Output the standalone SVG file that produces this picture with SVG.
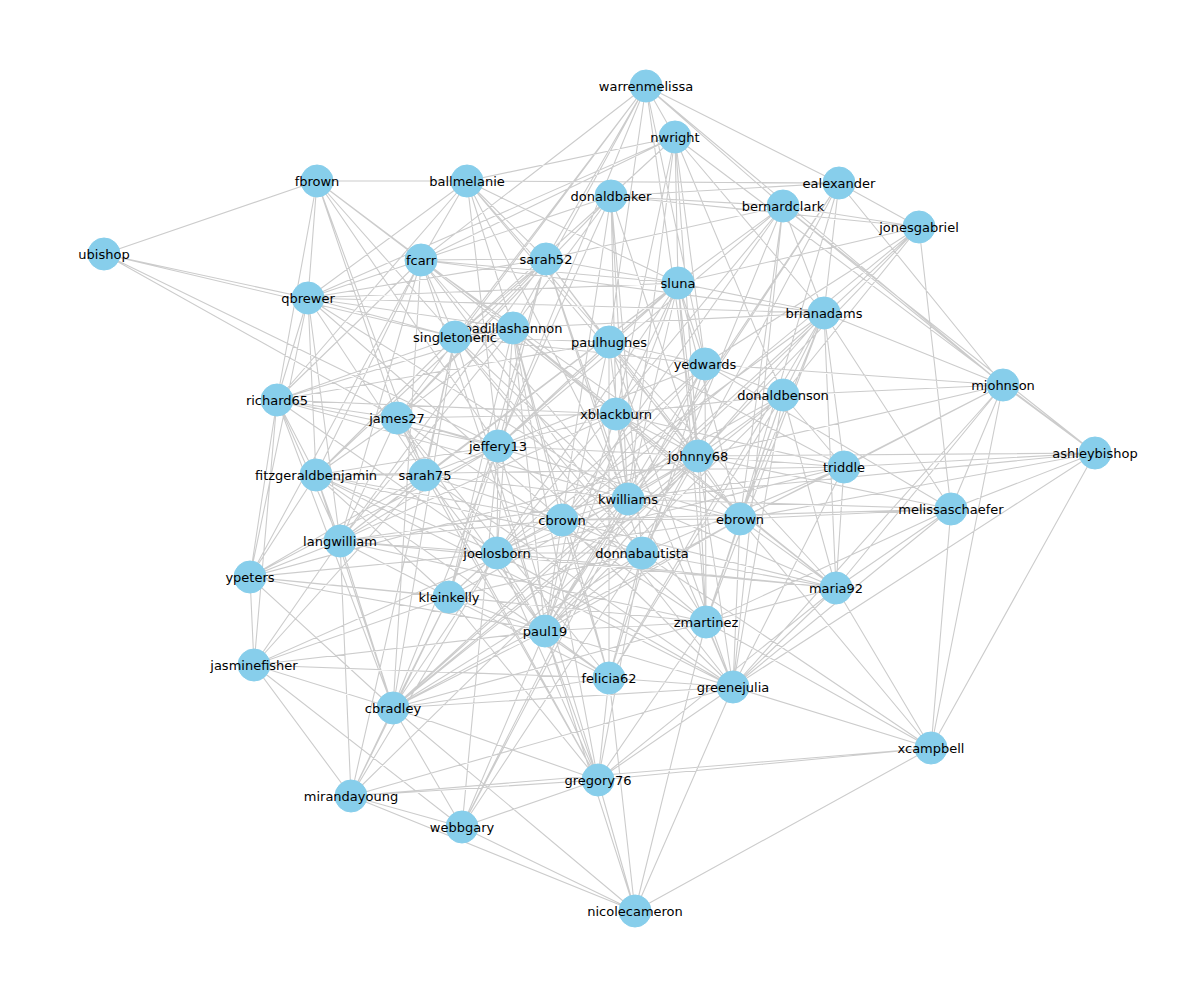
<svg xmlns="http://www.w3.org/2000/svg" width="1200" height="1000" viewBox="0 0 1200 1000">
<style>
.e{stroke:#cccccc;stroke-width:1.1;fill:none}
.n circle{fill:#87CEEB;stroke:#87CEEB}
.n text{font-family:"DejaVu Sans",sans-serif;font-size:13px;fill:#000;text-anchor:middle;dominant-baseline:central}
</style>
<rect width="1200" height="1000" fill="#ffffff"/>
<g id="edges">
<path class="e" d="
M104 254L317 181 M104 254L308 298 M104 254L455 337 M104 254L397 418 M104 254L498 446
M317 181L467 181 M317 181L421 260 M317 181L308 298 M317 181L277 400 M317 181L455 337 M317 181L397 418 M317 181L513 328 M317 181L425 475 M317 181L498 446
M467 181L839 183 M467 181L675 137 M467 181L421 260 M467 181L308 298 M467 181L277 400 M467 181L546 259 M467 181L513 328 M467 181L609 342 M467 181L498 446 M467 181L698 456 M467 181L628 499 M467 181L678 283
M646 86L675 137 M646 86L839 183 M646 86L1003 385 M646 86L783 206 M646 86L421 260 M646 86L455 337 M646 86L513 328 M646 86L546 259 M646 86L397 418 M646 86L498 446 M646 86L705 364 M646 86L609 342 M646 86L698 456
M675 137L421 260 M675 137L308 298 M675 137L678 283 M675 137L705 364 M675 137L698 456 M675 137L1095 453 M675 137L783 395 M675 137L616 414 M675 137L628 499 M675 137L611 196 M675 137L824 313
M839 183L611 196 M839 183L824 313 M839 183L1003 385 M839 183L919 227 M839 183L642 553 M839 183L740 519 M839 183L545 631 M839 183L628 499
M611 196L421 260 M611 196L919 227 M611 196L455 337 M611 196L513 328 M611 196L397 418 M611 196L498 446 M611 196L628 499 M611 196L698 456 M611 196L642 553 M611 196L562 520 M611 196L616 414 M611 196L783 206
M783 206L919 227 M783 206L678 283 M783 206L498 446 M783 206L562 520 M783 206L642 553 M783 206L740 519 M783 206L733 687 M783 206L1003 385 M783 206L824 313 M783 206L546 259 M783 206L1095 453 M783 206L497 553
M919 227L951 509 M919 227L678 283 M919 227L698 456 M919 227L705 364 M919 227L783 395 M919 227L628 499 M919 227L562 520
M421 260L546 259 M421 260L678 283 M421 260L308 298 M421 260L340 541 M421 260L316 475 M421 260L250 577 M421 260L455 337 M421 260L698 456 M421 260L824 313 M421 260L628 499 M421 260L545 631 M421 260L616 414 M421 260L277 400 M421 260L642 553 M421 260L393 708
M546 259L678 283 M546 259L308 298 M546 259L455 337 M546 259L397 418 M546 259L609 342 M546 259L498 446 M546 259L628 499 M546 259L642 553 M546 259L449 597 M546 259L340 541 M546 259L316 475 M546 259L740 519
M678 283L308 298 M678 283L824 313 M678 283L609 342 M678 283L705 364 M678 283L698 456 M678 283L616 414 M678 283L628 499 M678 283L740 519 M678 283L498 446 M678 283L497 553 M678 283L393 708 M678 283L545 631 M678 283L425 475 M678 283L340 541 M678 283L706 622
M308 298L277 400 M308 298L455 337 M308 298L513 328 M308 298L824 313 M308 298L316 475 M308 298L340 541 M308 298L250 577 M308 298L425 475 M308 298L562 520 M308 298L628 499
M824 313L513 328 M824 313L1003 385 M824 313L844 467 M824 313L783 395 M824 313L740 519 M824 313L836 588 M824 313L951 509 M824 313L497 553 M824 313L545 631 M824 313L393 708 M824 313L609 678 M824 313L706 622
M513 328L277 400 M513 328L455 337 M513 328L397 418 M513 328L616 414 M513 328L562 520 M513 328L497 553 M513 328L545 631 M513 328L449 597 M513 328L598 780 M513 328L609 678 M513 328L740 519 M513 328L836 588 M513 328L340 541
M455 337L277 400 M455 337L609 342 M455 337L316 475 M455 337L425 475 M455 337L393 708 M455 337L351 796 M455 337L545 631 M455 337L628 499 M455 337L733 687 M455 337L642 553 M455 337L705 364
M609 342L705 364 M609 342L498 446 M609 342L698 456 M609 342L277 400 M609 342L844 467 M609 342L628 499 M609 342L733 687 M609 342L836 588 M609 342L609 678 M609 342L545 631
M705 364L783 395 M705 364L1003 385 M705 364L498 446 M705 364L562 520 M705 364L449 597 M705 364L545 631 M705 364L609 678 M705 364L951 509 M705 364L706 622 M705 364L462 827
M1003 385L783 395 M1003 385L1095 453 M1003 385L844 467 M1003 385L951 509 M1003 385L836 588 M1003 385L931 748 M1003 385L740 519 M1003 385L698 456 M1003 385L733 687
M277 400L397 418 M277 400L316 475 M277 400L340 541 M277 400L250 577 M277 400L254 665 M277 400L628 499 M277 400L616 414 M277 400L393 708 M277 400L498 446 M277 400L497 553
M783 395L616 414 M783 395L844 467 M783 395L698 456 M783 395L740 519 M783 395L836 588 M783 395L706 622 M783 395L733 687 M783 395L545 631 M783 395L497 553 M783 395L393 708 M783 395L609 678
M616 414L397 418 M616 414L698 456 M616 414L498 446 M616 414L628 499 M616 414L844 467 M616 414L340 541 M616 414L545 631 M616 414L733 687 M616 414L836 588
M397 418L498 446 M397 418L425 475 M397 418L316 475 M397 418L340 541 M397 418L740 519 M397 418L545 631 M397 418L609 678 M397 418L598 780 M397 418L706 622
M498 446L698 456 M498 446L425 475 M498 446L316 475 M498 446L449 597 M498 446L497 553 M498 446L393 708 M498 446L462 827 M498 446L706 622 M498 446L250 577 M498 446L598 780 M498 446L340 541
M698 456L1095 453 M698 456L844 467 M698 456L628 499 M698 456L740 519 M698 456L642 553 M698 456L393 708 M698 456L545 631 M698 456L449 597 M698 456L706 622 M698 456L733 687 M698 456L351 796 M698 456L951 509 M698 456L250 577
M1095 453L844 467 M1095 453L951 509 M1095 453L931 748 M1095 453L628 499 M1095 453L740 519 M1095 453L733 687
M844 467L740 519 M844 467L642 553 M844 467L733 687 M844 467L836 588 M844 467L497 553 M844 467L340 541 M844 467L316 475
M316 475L425 475 M316 475L340 541 M316 475L250 577 M316 475L562 520 M316 475L497 553 M316 475L449 597 M316 475L642 553 M316 475L393 708 M316 475L609 678 M316 475L733 687
M425 475L562 520 M425 475L628 499 M425 475L340 541 M425 475L250 577 M425 475L254 665 M425 475L545 631 M425 475L598 780 M425 475L733 687
M628 499L562 520 M628 499L740 519 M628 499L951 509 M628 499L836 588 M628 499L706 622 M628 499L340 541 M628 499L393 708 M628 499L545 631 M628 499L254 665 M628 499L462 827
M951 509L836 588 M951 509L931 748 M951 509L733 687 M951 509L740 519 M951 509L562 520 M951 509L706 622
M562 520L740 519 M562 520L642 553 M562 520L340 541 M562 520L497 553 M562 520L545 631 M562 520L609 678 M562 520L733 687 M562 520L836 588
M740 519L836 588 M740 519L931 748 M740 519L706 622 M740 519L393 708 M740 519L545 631 M740 519L733 687 M740 519L497 553
M340 541L250 577 M340 541L393 708 M340 541L351 796 M340 541L449 597 M340 541L497 553 M340 541L706 622 M340 541L254 665 M340 541L836 588
M497 553L642 553 M497 553L250 577 M497 553L545 631 M497 553L598 780 M497 553L449 597 M497 553L733 687 M497 553L836 588 M497 553L393 708 M497 553L351 796
M642 553L836 588 M642 553L545 631 M642 553L449 597 M642 553L609 678 M642 553L598 780 M642 553L931 748 M642 553L393 708 M642 553L462 827
M250 577L254 665 M250 577L449 597 M250 577L393 708 M250 577L706 622 M250 577L545 631
M836 588L931 748 M836 588L733 687 M836 588L706 622 M836 588L598 780
M449 597L545 631 M449 597L254 665 M449 597L393 708 M449 597L351 796 M449 597L598 780 M449 597L609 678
M706 622L733 687 M706 622L931 748 M706 622L545 631 M706 622L598 780 M706 622L635 911 M706 622L393 708
M545 631L609 678 M545 631L733 687 M545 631L393 708 M545 631L598 780 M545 631L462 827 M545 631L635 911 M545 631L254 665
M254 665L609 678 M254 665L351 796 M254 665L393 708 M254 665L462 827
M609 678L733 687 M609 678L598 780 M609 678L393 708 M609 678L635 911
M733 687L931 748 M733 687L393 708 M733 687L598 780 M733 687L635 911 M733 687L351 796
M393 708L462 827 M393 708L351 796 M393 708L598 780 M393 708L635 911
M931 748L635 911 M931 748L598 780 M931 748L351 796
M598 780L351 796 M598 780L635 911 M598 780L462 827
M351 796L462 827 M351 796L635 911 M462 827L635 911"/>
</g>
<g id="nodes">
<g class="n" id="warrenmelissa"><circle cx="646" cy="86" r="16"/><text x="646" y="86">warrenmelissa</text></g>
<g class="n" id="nwright"><circle cx="675" cy="137" r="16"/><text x="675" y="137">nwright</text></g>
<g class="n" id="ealexander"><circle cx="839" cy="183" r="16"/><text x="839" y="183">ealexander</text></g>
<g class="n" id="fbrown"><circle cx="317" cy="181" r="16"/><text x="317" y="181">fbrown</text></g>
<g class="n" id="ballmelanie"><circle cx="467" cy="181" r="16"/><text x="467" y="181">ballmelanie</text></g>
<g class="n" id="donaldbaker"><circle cx="611" cy="196" r="16"/><text x="611" y="196">donaldbaker</text></g>
<g class="n" id="bernardclark"><circle cx="783" cy="206" r="16"/><text x="783" y="206">bernardclark</text></g>
<g class="n" id="jonesgabriel"><circle cx="919" cy="227" r="16"/><text x="919" y="227">jonesgabriel</text></g>
<g class="n" id="ubishop"><circle cx="104" cy="254" r="16"/><text x="104" y="254">ubishop</text></g>
<g class="n" id="fcarr"><circle cx="421" cy="260" r="16"/><text x="421" y="260">fcarr</text></g>
<g class="n" id="sarah52"><circle cx="546" cy="259" r="16"/><text x="546" y="259">sarah52</text></g>
<g class="n" id="sluna"><circle cx="678" cy="283" r="16"/><text x="678" y="283">sluna</text></g>
<g class="n" id="qbrewer"><circle cx="308" cy="298" r="16"/><text x="308" y="298">qbrewer</text></g>
<g class="n" id="brianadams"><circle cx="824" cy="313" r="16"/><text x="824" y="313">brianadams</text></g>
<g class="n" id="padillashannon"><circle cx="513" cy="328" r="16"/><text x="513" y="328">padillashannon</text></g>
<g class="n" id="singletoneric"><circle cx="455" cy="337" r="16"/><text x="455" y="337">singletoneric</text></g>
<g class="n" id="paulhughes"><circle cx="609" cy="342" r="16"/><text x="609" y="342">paulhughes</text></g>
<g class="n" id="yedwards"><circle cx="705" cy="364" r="16"/><text x="705" y="364">yedwards</text></g>
<g class="n" id="mjohnson"><circle cx="1003" cy="385" r="16"/><text x="1003" y="385">mjohnson</text></g>
<g class="n" id="richard65"><circle cx="277" cy="400" r="16"/><text x="277" y="400">richard65</text></g>
<g class="n" id="donaldbenson"><circle cx="783" cy="395" r="16"/><text x="783" y="395">donaldbenson</text></g>
<g class="n" id="xblackburn"><circle cx="616" cy="414" r="16"/><text x="616" y="414">xblackburn</text></g>
<g class="n" id="james27"><circle cx="397" cy="418" r="16"/><text x="397" y="418">james27</text></g>
<g class="n" id="jeffery13"><circle cx="498" cy="446" r="16"/><text x="498" y="446">jeffery13</text></g>
<g class="n" id="johnny68"><circle cx="698" cy="456" r="16"/><text x="698" y="456">johnny68</text></g>
<g class="n" id="ashleybishop"><circle cx="1095" cy="453" r="16"/><text x="1095" y="453">ashleybishop</text></g>
<g class="n" id="triddle"><circle cx="844" cy="467" r="16"/><text x="844" y="467">triddle</text></g>
<g class="n" id="fitzgeraldbenjamin"><circle cx="316" cy="475" r="16"/><text x="316" y="475">fitzgeraldbenjamin</text></g>
<g class="n" id="sarah75"><circle cx="425" cy="475" r="16"/><text x="425" y="475">sarah75</text></g>
<g class="n" id="kwilliams"><circle cx="628" cy="499" r="16"/><text x="628" y="499">kwilliams</text></g>
<g class="n" id="melissaschaefer"><circle cx="951" cy="509" r="16"/><text x="951" y="509">melissaschaefer</text></g>
<g class="n" id="cbrown"><circle cx="562" cy="520" r="16"/><text x="562" y="520">cbrown</text></g>
<g class="n" id="ebrown"><circle cx="740" cy="519" r="16"/><text x="740" y="519">ebrown</text></g>
<g class="n" id="langwilliam"><circle cx="340" cy="541" r="16"/><text x="340" y="541">langwilliam</text></g>
<g class="n" id="joelosborn"><circle cx="497" cy="553" r="16"/><text x="497" y="553">joelosborn</text></g>
<g class="n" id="donnabautista"><circle cx="642" cy="553" r="16"/><text x="642" y="553">donnabautista</text></g>
<g class="n" id="ypeters"><circle cx="250" cy="577" r="16"/><text x="250" y="577">ypeters</text></g>
<g class="n" id="maria92"><circle cx="836" cy="588" r="16"/><text x="836" y="588">maria92</text></g>
<g class="n" id="kleinkelly"><circle cx="449" cy="597" r="16"/><text x="449" y="597">kleinkelly</text></g>
<g class="n" id="zmartinez"><circle cx="706" cy="622" r="16"/><text x="706" y="622">zmartinez</text></g>
<g class="n" id="paul19"><circle cx="545" cy="631" r="16"/><text x="545" y="631">paul19</text></g>
<g class="n" id="jasminefisher"><circle cx="254" cy="665" r="16"/><text x="254" y="665">jasminefisher</text></g>
<g class="n" id="felicia62"><circle cx="609" cy="678" r="16"/><text x="609" y="678">felicia62</text></g>
<g class="n" id="greenejulia"><circle cx="733" cy="687" r="16"/><text x="733" y="687">greenejulia</text></g>
<g class="n" id="cbradley"><circle cx="393" cy="708" r="16"/><text x="393" y="708">cbradley</text></g>
<g class="n" id="xcampbell"><circle cx="931" cy="748" r="16"/><text x="931" y="748">xcampbell</text></g>
<g class="n" id="gregory76"><circle cx="598" cy="780" r="16"/><text x="598" y="780">gregory76</text></g>
<g class="n" id="mirandayoung"><circle cx="351" cy="796" r="16"/><text x="351" y="796">mirandayoung</text></g>
<g class="n" id="webbgary"><circle cx="462" cy="827" r="16"/><text x="462" y="827">webbgary</text></g>
<g class="n" id="nicolecameron"><circle cx="635" cy="911" r="16"/><text x="635" y="911">nicolecameron</text></g>
</g>
</svg>
